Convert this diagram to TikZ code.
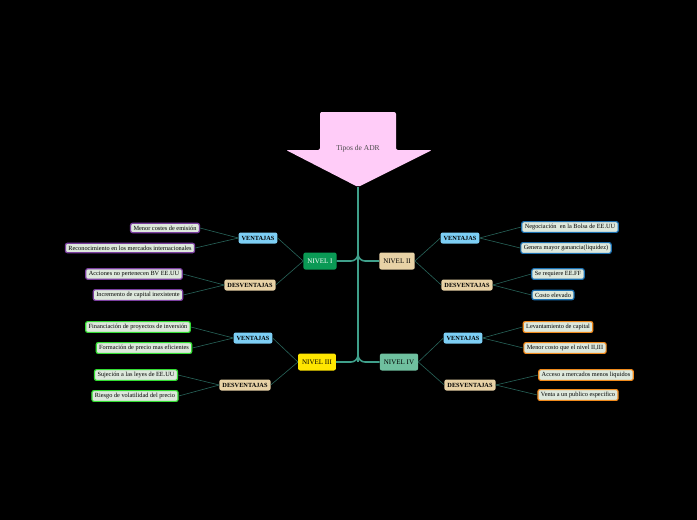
\documentclass[tikz,border=0pt]{standalone}
\usepackage{fontspec}
\setmainfont{Liberation Serif}
\definecolor{cPink}{RGB}{255,204,248}
\definecolor{cTan}{RGB}{232,210,166}
\definecolor{cBlue}{RGB}{125,207,245}
\definecolor{cLeaf}{RGB}{221,232,220}
\definecolor{cPur}{RGB}{123,63,160}
\definecolor{cGrn}{RGB}{51,221,51}
\definecolor{cBl}{RGB}{26,111,176}
\definecolor{cOr}{RGB}{240,138,28}
\definecolor{cN1}{RGB}{10,154,85}
\definecolor{cN3}{RGB}{255,230,0}
\definecolor{cN4}{RGB}{111,192,159}
\definecolor{cCon}{RGB}{40,100,90}
\definecolor{cTr}{RGB}{63,159,138}
\begin{document}
\begin{tikzpicture}[x=1pt,y=-1pt,
 base/.style={rounded corners=2pt,font=\fontsize{6.3}{7}\selectfont,inner xsep=3pt,inner ysep=2.5pt,text=black},
 sub/.style={base,font=\fontsize{6.3}{7}\selectfont\bfseries,minimum height=11pt},
 vent/.style={sub,fill=cBlue},
 desv/.style={sub,fill=cTan},
 leafP/.style={base,draw=cPur,line width=1.2pt,fill=cLeaf},
 leafG/.style={leafP,draw=cGrn},
 leafB/.style={leafP,draw=cBl},
 leafO/.style={leafP,draw=cOr},
 lvl/.style={base,font=\fontsize{7}{8}\selectfont,minimum height=17pt,inner xsep=4pt},
 con/.style={draw=cCon,line width=0.6pt},
 trunk/.style={draw=cTr,line width=1.6pt,rounded corners=7pt}]
\fill[black] (0,0) rectangle (697,520);
\useasboundingbox (0,0) rectangle (697,520);
\draw[trunk] (358,187) -- (358,362);
\fill[cPink] (323,112) -- (393,112) [rounded corners=2pt] -- (396,112) -- (396,150) -- (432,150) -- (358,187) -- (286,150) -- (320,150) -- (320,112) -- cycle;
\node (root) at (358,149) {\fontsize{7.5}{9}\selectfont\color{black!70}Tipos de ADR};
\node[lvl,fill=cN1,text=white] (n1) at (320,261) {NIVEL I};
\node[lvl,fill=cTan] (n2) at (397,261) {NIVEL II};
\node[lvl,fill=cN3] (n3) at (317,362) {NIVEL III};
\node[lvl,fill=cN4] (n4) at (399,362) {NIVEL IV};
\coordinate (t) at (358,187);
\draw[trunk] (t) -- (358,261) -- (n1.east);
\draw[trunk] (t) -- (358,261) -- (n2.west);
\draw[trunk] (t) -- (358,362) -- (n3.east);
\draw[trunk] (t) -- (358,362) -- (n4.west);
\node[vent] (v1) at (258,238) {VENTAJAS};
\node[desv] (d1) at (250,285) {DESVENTAJAS};
\node[vent] (v3) at (253,338) {VENTAJAS};
\node[desv] (d3) at (245,385) {DESVENTAJAS};
\node[vent] (v2) at (460,238) {VENTAJAS};
\node[desv] (d2) at (467,285) {DESVENTAJAS};
\node[vent] (v4) at (463,338) {VENTAJAS};
\node[desv] (d4) at (470,385) {DESVENTAJAS};
\foreach \a/\b in {v1/n1,d1/n1,v3/n3,d3/n3} \draw[con] (\a.east) -- (\b.west);
\foreach \a/\b in {v2/n2,d2/n2,v4/n4,d4/n4} \draw[con] (\a.west) -- (\b.east);
\node[leafP] (a1) at (165,228) {Menor costes de emisión};
\node[leafP] (a2) at (130,248) {Reconocimiento en los mercados internacionales};
\node[leafP] (a3) at (134,274) {Acciones no pertenecen BV EE.UU};
\node[leafP] (a4) at (138,295) {Incremento de capital inexistente};
\node[leafG] (c1) at (138,327) {Financiación de proyectos de inversión};
\node[leafG] (c2) at (144,348) {Formación de precio mas eficientes};
\node[leafG] (c3) at (136,375) {Sujeción a las leyes de EE.UU};
\node[leafG] (c4) at (135,396) {Riesgo de volatilidad del precio};
\foreach \a/\b in {a1/v1,a2/v1,a3/d1,a4/d1,c1/v3,c2/v3,c3/d3,c4/d3} \draw[con] (\a.east) -- (\b.west);
\node[leafB] (b1) at (570,227) {Negociación\ \ en la Bolsa de EE.UU};
\node[leafB] (b2) at (566,248) {Genera mayor ganancia(liquidez)};
\node[leafB] (b3) at (558,274) {Se requiere EE.FF};
\node[leafB] (b4) at (553,295) {Costo elevado};
\node[leafO] (e1) at (558,327) {Levantamiento de capital};
\node[leafO] (e2) at (565,348) {Menor costo que el nivel II,III};
\node[leafO] (e3) at (586,375) {Acceso a mercados menos liquidos};
\node[leafO] (e4) at (578,395) {Venta a un publico especifico};
\foreach \a/\b in {b1/v2,b2/v2,b3/d2,b4/d2,e1/v4,e2/v4,e3/d4,e4/d4} \draw[con] (\a.west) -- (\b.east);
\end{tikzpicture}
\end{document}
